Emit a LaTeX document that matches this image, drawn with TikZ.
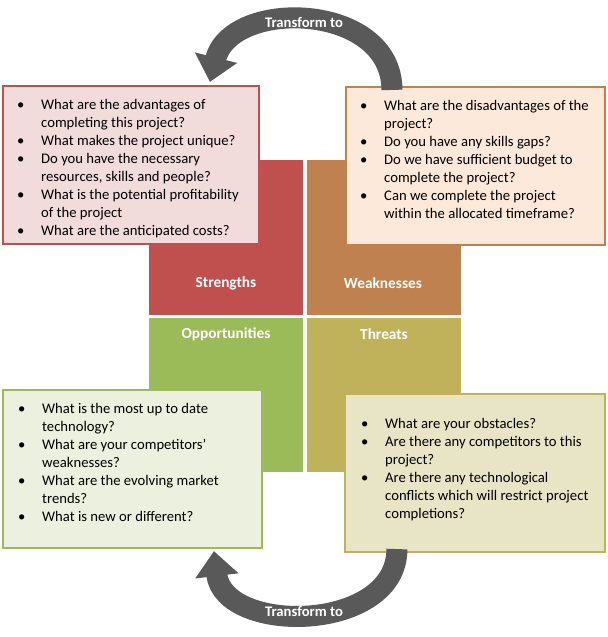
\documentclass[tikz,border=0pt]{standalone}
\usepackage{fontspec}
\setmainfont{Carlito}
\usetikzlibrary{arrows.meta,positioning,calc,fit,shadows}
\definecolor{sred}{HTML}{C0504D}
\definecolor{wbrown}{HTML}{BF8150}
\definecolor{ogreen}{HTML}{9BBB59}
\definecolor{tolive}{HTML}{C0B25A}
\definecolor{sfill}{HTML}{F2DCDB}
\definecolor{wfill}{HTML}{FDE9D9}
\definecolor{ofill}{HTML}{EBF1DE}
\definecolor{tfill}{HTML}{E8E4C6}
\definecolor{bandgray}{HTML}{595959}
\newcommand{\qitems}[1]{\begin{tabular}{@{}p{18pt}@{}l@{}}#1\end{tabular}}

\begin{document}
\begin{tikzpicture}[x=0.75pt,y=-0.75pt,
  quad/.style={inner sep=0pt,draw=none},
  qlabel/.style={font=\fontsize{11.5pt}{13pt}\selectfont\bfseries,text=white},
  qbox/.style={inner sep=0pt,line width=1.6pt,
    drop shadow={shadow xshift=1pt,shadow yshift=-1pt,opacity=0.3}},
  qtext/.style={inner sep=0pt,anchor=north west,font=\fontsize{11pt}{13.5pt}\selectfont},
  band/.style={line width=15.75pt,draw=bandgray,
    -{Triangle[length=18.75pt,width=31.5pt]}},
  bandtext/.style={font=\fontsize{11pt}{13pt}\selectfont\bfseries,text=white}]
  \useasboundingbox (0,0) rectangle (608,637);

  % Quadrants
  \node[quad,fill=sred,fit={(149,160) (303,315)}] (squad) {};
  \node[quad,fill=wbrown,fit={(307,160) (461,315)}] (wquad) {};
  \node[quad,fill=ogreen,fit={(149,318) (303,472)}] (oquad) {};
  \node[quad,fill=tolive,fit={(307,318) (461,472)}] (tquad) {};
  \node[qlabel] (slabel) at (226,283) {Strengths};
  \node[qlabel] (wlabel) at (383,283) {Weaknesses};
  \node[qlabel] (olabel) at (226,334) {Opportunities};
  \node[qlabel] (tlabel) at (384,334) {Threats};

  % Question boxes (outline only, text below)
  \node[qbox,draw=sred,fill=sfill,fit={(3,86) (259,244)}] (sbox) {};
  \node[qbox,draw=wbrown,fill=wfill,fit={(346,87) (605,245)}] (wbox) {};
  \node[qbox,draw=ogreen,fill=ofill,fit={(3,390) (262,548)}] (obox) {};
  \node[qbox,draw=tolive,fill=tfill,fit={(345,394) (605,552)}] (tbox) {};

  % Transform arrows
  \coordinate (topstart) at ($(wbox.north west)+(47,4)$);
  \coordinate (toptip) at ($(sbox.north west)+(208,-3)$);
  \draw[band] (topstart) .. controls +(0,-88) and +(21,-84) .. (toptip);
  \node[bandtext] (toplabel) at (304,22) {Transform to};

  \coordinate (botstart) at ($(tbox.south west)+(53,-4)$);
  \coordinate (bottip) at ($(obox.south west)+(212,2)$);
  \draw[band] (botstart) .. controls +(0,84) and +(10,84) .. (bottip);
  \node[bandtext] (botlabel) at (304,611) {Transform to};

  % Box texts
  \node[qtext] (stext) at ($(sbox.north west)+(15,12)$) {\qitems{%
    \textbullet & What are the advantages of\\
     & completing this project?\\
    \textbullet & What makes the project unique?\\
    \textbullet & Do you have the necessary\\
     & resources, skills and people?\\
    \textbullet & What is the potential profitability\\
     & of the project\\
    \textbullet & What are the anticipated costs?}};
  \node[qtext] (wtext) at ($(wbox.north west)+(15,12)$) {\qitems{%
    \textbullet & What are the disadvantages of the\\
     & project?\\
    \textbullet & Do you have any skills gaps?\\
    \textbullet & Do we have sufficient budget to\\
     & complete the project?\\
    \textbullet & Can we complete the project\\
     & within the allocated timeframe?}};
  \node[qtext] (otext) at ($(obox.north west)+(16,12)$) {\qitems{%
    \textbullet & What is the most up to date\\
     & technology?\\
    \textbullet & What are your competitors’\\
     & weaknesses?\\
    \textbullet & What are the evolving market\\
     & trends?\\
    \textbullet & What is new or different?}};
  \node[qtext] (ttext) at ($(tbox.north west)+(17,23)$) {\qitems{%
    \textbullet & What are your obstacles?\\
    \textbullet & Are there any competitors to this\\
     & project?\\
    \textbullet & Are there any technological\\
     & conflicts which will restrict project\\
     & completions?}};
\end{tikzpicture}
\end{document}
